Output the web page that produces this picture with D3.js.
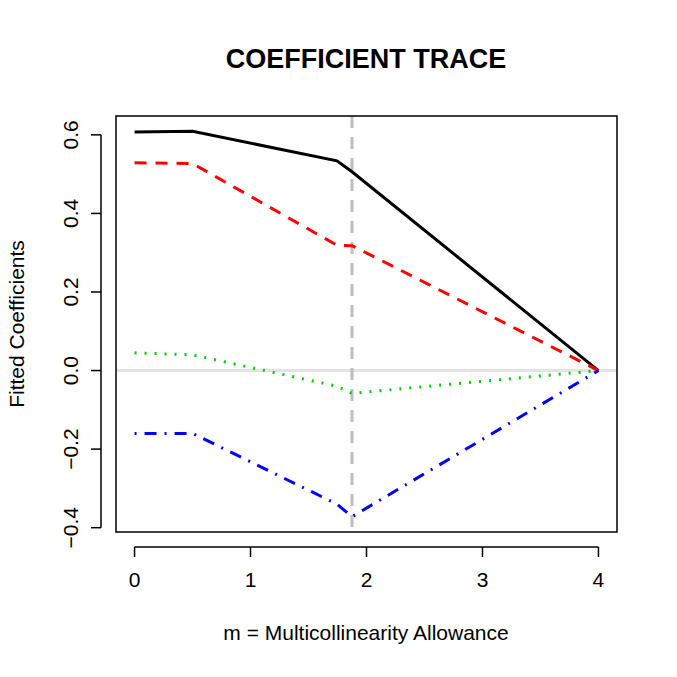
<!DOCTYPE html>
<html><head><meta charset="utf-8">
<script src="https://cdn.jsdelivr.net/npm/d3@7"></script>
<style>body{margin:0;background:#fff}text{font-family:"Liberation Sans",Arial,sans-serif}</style>
</head><body><svg id="chart" width="677" height="677"></svg>
<script>
// m values where the path bends
const mVals = [0, 0.5, 1.745, 1.875, 4];
const black = [0.607, 0.609, 0.534, 0.506, 0];
const red = [0.529, 0.527, 0.319, 0.318, 0];
const green = [0.045, 0.040, -0.040, -0.058, 0];
const blue = [-0.160, -0.160, -0.340, -0.372, 0];
const xTicks = [0, 1, 2, 3, 4];
const yTicks = [-0.4, -0.2, 0, 0.2, 0.4, 0.6];
const mChosen = 1.875;

const series = [
  {vals: black, color: '#000', dash: null},
  {vals: red, color: '#f00', dash: '12,9'},
  {vals: green, color: '#0c0', dash: '2,8'},
  {vals: blue, color: '#00f', dash: '2,8,12,8'},
];

var svg = d3.select('#chart');
var pL = 116, pR = 617, pT = 116, pB = 532;

var x = d3.scaleLinear().domain([-0.16, 4.16]).range([pL, pR]);
var y = d3.scaleLinear().domain([-0.411, 0.648]).range([pB, pT]);

svg.append('line').attr('x1', pL).attr('x2', pR).attr('y1', y(0)).attr('y2', y(0))
  .attr('stroke', '#e3e3e3').attr('stroke-width', 3);
svg.append('line').attr('x1', x(mChosen)).attr('x2', x(mChosen)).attr('y1', pT).attr('y2', pB)
  .attr('stroke', '#bebebe').attr('stroke-width', 3).attr('stroke-dasharray', '12,9');

var line = d3.line().x((d, i) => x(mVals[i])).y(d => y(d));
series.forEach(s => {
  svg.append('path').attr('d', line(s.vals)).attr('fill', 'none')
    .attr('stroke', s.color).attr('stroke-width', 3)
    .attr('stroke-dasharray', s.dash);
});

svg.append('rect').attr('x', pL).attr('y', pT).attr('width', pR - pL).attr('height', pB - pT)
  .attr('fill', 'none').attr('stroke', '#000').attr('stroke-width', 1.5);

// x axis
svg.append('line').attr('x1', x(0)).attr('x2', x(4)).attr('y1', pB + 15).attr('y2', pB + 15)
  .attr('stroke', '#000').attr('stroke-width', 1.5);
xTicks.forEach(t => {
  svg.append('line').attr('x1', x(t)).attr('x2', x(t)).attr('y1', pB + 15).attr('y2', pB + 25)
    .attr('stroke', '#000').attr('stroke-width', 1.5);
  svg.append('text').attr('x', x(t)).attr('y', pB + 55).attr('text-anchor', 'middle')
    .attr('font-size', 21).text(t);
});
// y axis
svg.append('line').attr('x1', pL - 15).attr('x2', pL - 15).attr('y1', y(-0.4)).attr('y2', y(0.6))
  .attr('stroke', '#000').attr('stroke-width', 1.5);
yTicks.forEach(t => {
  svg.append('line').attr('x1', pL - 15).attr('x2', pL - 25).attr('y1', y(t)).attr('y2', y(t))
    .attr('stroke', '#000').attr('stroke-width', 1.5);
  svg.append('text').attr('transform', `translate(${pL - 38},${y(t)}) rotate(-90)`)
    .attr('text-anchor', 'middle').attr('font-size', 21)
    .text(t === 0 ? '0.0' : d3.format('.1f')(t).replace('-', '\u2212'));
});

svg.append('text').attr('x', 366).attr('y', 68).attr('text-anchor', 'middle')
  .attr('font-size', 27).attr('font-weight', 'bold').text('COEFFICIENT TRACE');
svg.append('text').attr('x', 366).attr('y', 640).attr('text-anchor', 'middle')
  .attr('font-size', 21).text('m = Multicollinearity Allowance');
svg.append('text').attr('transform', `translate(24,${(pT + pB) / 2}) rotate(-90)`)
  .attr('text-anchor', 'middle').attr('font-size', 21).text('Fitted Coefficients');
</script></body></html>
